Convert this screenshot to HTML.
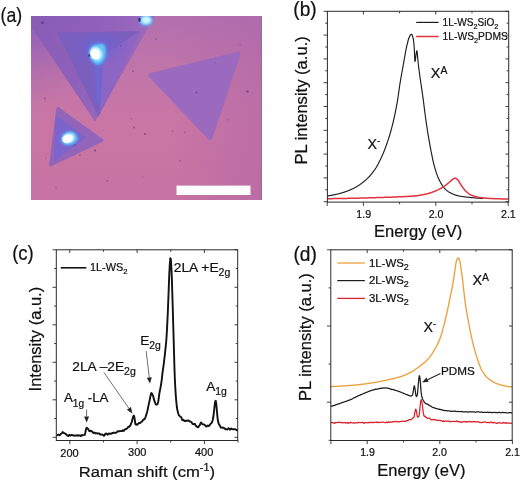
<!DOCTYPE html>
<html lang="en"><head><meta charset="utf-8"><title>WS2 figure</title>
<style>html,body{margin:0;padding:0;background:#fff}body{width:520px;height:482px;overflow:hidden}svg{display:block;filter:blur(.35px)}text{font-family:'Liberation Sans', Arial, Helvetica, sans-serif;fill:#111;stroke:#111;stroke-width:.22px}</style>
</head><body>
<svg width="520" height="482" viewBox="0 0 520 482">
<rect width="520" height="482" fill="#fff"/>
<defs>
<linearGradient id="bgA" x1="0" y1="0" x2="0" y2="1">
 <stop offset="0" stop-color="#b270af"/><stop offset="0.3" stop-color="#c175a8"/><stop offset="0.6" stop-color="#c976a4"/><stop offset="1" stop-color="#c773a3"/>
</linearGradient>
<radialGradient id="vig" gradientUnits="userSpaceOnUse" cx="31" cy="10" r="95">
 <stop offset="0" stop-color="#8456c4" stop-opacity="0.95"/><stop offset="0.45" stop-color="#9560b8" stop-opacity="0.6"/><stop offset="1" stop-color="#a868a8" stop-opacity="0"/>
</radialGradient>
<linearGradient id="outerG" gradientUnits="userSpaceOnUse" x1="30" y1="20" x2="150" y2="60">
 <stop offset="0" stop-color="#885bb5"/><stop offset="0.5" stop-color="#8f61ba"/><stop offset="1" stop-color="#9d6abe"/>
</linearGradient>
<radialGradient id="glow" cx="0.5" cy="0.5" r="0.5">
 <stop offset="0" stop-color="#6468dc" stop-opacity="0.85"/><stop offset="0.5" stop-color="#6a66d4" stop-opacity="0.45"/><stop offset="1" stop-color="#7060c8" stop-opacity="0"/>
</radialGradient>
<linearGradient id="rightshade" x1="0" y1="0" x2="1" y2="0">
 <stop offset="0.6" stop-color="#a860a8" stop-opacity="0"/><stop offset="1" stop-color="#a860a8" stop-opacity="0.35"/>
</linearGradient>
<radialGradient id="spot" cx="0.5" cy="0.5" r="0.5">
 <stop offset="0" stop-color="#ffffff"/><stop offset="0.38" stop-color="#e8fbff"/><stop offset="0.62" stop-color="#62c8f2"/><stop offset="0.85" stop-color="#4f86e0" stop-opacity="0.7"/><stop offset="1" stop-color="#6a70d0" stop-opacity="0"/>
</radialGradient>
<filter id="b1" x="-10%" y="-10%" width="120%" height="120%"><feGaussianBlur stdDeviation="0.7"/></filter><filter id="b0" x="-10%" y="-10%" width="120%" height="120%"><feGaussianBlur stdDeviation="0.6"/></filter>
<filter id="b15" x="-20%" y="-20%" width="140%" height="140%"><feGaussianBlur stdDeviation="1.05"/></filter><filter id="b2" x="-20%" y="-20%" width="140%" height="140%"><feGaussianBlur stdDeviation="1.4"/></filter>
<filter id="b05" x="-50%" y="-50%" width="200%" height="200%"><feGaussianBlur stdDeviation="0.55"/></filter>
<clipPath id="clipA"><rect x="31" y="16" width="231" height="184"/></clipPath>
<clipPath id="clipMid"><polygon points="57,32.6 139.6,31.3 98.6,116.6"/></clipPath>
<clipPath id="clipB"><rect x="327.5" y="11.3" width="181.2" height="190.8"/></clipPath>
<clipPath id="clipC"><rect x="56.3" y="249.8" width="181.9" height="190.5"/></clipPath>
<clipPath id="clipD"><rect x="330.8" y="249.8" width="181.5" height="190.5"/></clipPath>
</defs>
<g clip-path="url(#clipA)">
<rect x="31" y="16" width="231" height="184" fill="url(#bgA)"/>
<rect x="31" y="16" width="231" height="184" fill="url(#rightshade)"/>
<rect x="31" y="16" width="231" height="184" fill="url(#vig)"/>
<g filter="url(#b0)">
<polygon points="18.8,8 159.3,8 95,121.6" fill="url(#outerG)"/>
<polygon points="57,32.6 139.6,31.3 98.6,116.6" fill="#7a5ebf"/>
<g clip-path="url(#clipMid)">
<polygon points="103,56 141,30 99.5,114" fill="#9066c4" opacity="0.85"/>
<g filter="url(#b2)"><polygon points="93,58 102,58 100.5,104 97,104" fill="#6a6cdc" opacity="0.7"/></g>
<ellipse cx="99" cy="47" rx="30" ry="17" fill="url(#glow)"/>
</g>
<polygon points="151,75.4 238,54.2 210,137.6" fill="#9b6abe" stroke="#9b6abe" stroke-width="5" stroke-linejoin="round"/>
<polygon points="57.8,108.4 102,140.4 50.6,165" fill="#9265ba" stroke="#9265ba" stroke-width="3" stroke-linejoin="round"/>
<polygon points="56.2,116.4 85,137.4 54.6,160" fill="#7d64cc" stroke="#7d64cc" stroke-width="1.2" stroke-linejoin="round"/>
</g>
<g filter="url(#b2)" opacity="0.9"><ellipse cx="97.5" cy="54" rx="8.5" ry="11" fill="#5090f0" transform="rotate(-28 97.5 54)"/><ellipse cx="146" cy="20.4" rx="7" ry="5.6" fill="#5a9cf0"/><ellipse cx="69.2" cy="138.4" rx="8.6" ry="7" fill="#5090f0" transform="rotate(-15 69.2 138.4)"/></g>
<g filter="url(#b15)">
<path d="M89.6,53 C90.2,47 97,43 103.4,43.8 C106.8,46.2 106,54 103.8,58.8 C101.4,63.2 98.4,65.8 95.8,64 C92.4,60.8 89.2,58 89.6,53Z" fill="#62c4f8"/>
<ellipse cx="145.9" cy="20.3" rx="6" ry="4.6" fill="#84d4fa"/>
<path d="M61.8,139.5 C62,134.2 67,131 72.4,131.9 C75.8,133.2 78,136.6 77.2,139.4 C75.8,142.4 72,144.6 67.6,144.6 C64.2,145 61.7,142.8 61.8,139.5Z" fill="#62c0f8"/>
</g>
<g filter="url(#b15)">
<ellipse cx="96.2" cy="53.6" rx="5.6" ry="7" fill="#d8f8ff" transform="rotate(-25 96.2 53.6)"/>
<ellipse cx="146.3" cy="20" rx="4.2" ry="3.2" fill="#d4f6ff"/>
<ellipse cx="68.6" cy="138.2" rx="6" ry="4.6" fill="#d8f8ff" transform="rotate(-18 68.6 138.2)"/>
</g>
<g filter="url(#b1)">
<ellipse cx="94.9" cy="54" rx="4.4" ry="5.4" fill="#ffffff" transform="rotate(-20 94.9 54)"/>
<ellipse cx="67.5" cy="138.8" rx="5.2" ry="4.1" fill="#ffffff" transform="rotate(-12 67.5 138.8)"/>
<ellipse cx="139.5" cy="19.8" rx="1.2" ry="2.2" fill="#1c1a50" opacity="0.8"/>
<ellipse cx="89.2" cy="55.6" rx="0.9" ry="1.3" fill="#1c1a50" opacity="0.7"/>
</g>
<g filter="url(#b05)" fill="#3a1f5a">
<circle cx="42.5" cy="22.7" r="1.3" opacity="0.51"/>
<circle cx="156" cy="39" r="0.9" opacity="0.255"/>
<circle cx="247.5" cy="91.5" r="1.2" opacity="0.4675"/>
<circle cx="45" cy="98.5" r="1" opacity="0.34"/>
<circle cx="134" cy="127.5" r="1" opacity="0.34"/>
<circle cx="145" cy="134" r="1.1" opacity="0.425"/>
<circle cx="172.5" cy="131" r="0.9" opacity="0.255"/>
<circle cx="185" cy="132.5" r="0.9" opacity="0.255"/>
<circle cx="56" cy="187.5" r="0.9" opacity="0.2125"/>
<circle cx="107.5" cy="181" r="1" opacity="0.2975"/>
<circle cx="180" cy="161" r="0.9" opacity="0.255"/>
<circle cx="75" cy="145" r="1" opacity="0.2975"/>
<circle cx="215" cy="62.5" r="0.9" opacity="0.2125"/>
<circle cx="196.5" cy="92.5" r="1" opacity="0.2975"/>
<circle cx="131.5" cy="118.5" r="0.8" opacity="0.255"/>
<circle cx="95" cy="150.5" r="1.1" opacity="0.425"/>
<circle cx="80" cy="155" r="0.9" opacity="0.2975"/>
<circle cx="240" cy="45" r="0.8" opacity="0.2125"/>
<circle cx="121" cy="46" r="0.9" opacity="0.255"/>
<circle cx="133" cy="71" r="1" opacity="0.34"/>
<circle cx="46" cy="158" r="0.8" opacity="0.2125"/>
<circle cx="143" cy="177" r="0.8" opacity="0.2125"/>
<circle cx="228" cy="120" r="0.8" opacity="0.2125"/>
</g>
<rect x="176.5" y="185.6" width="74" height="9.4" fill="#fff"/>
<path d="M261.3,16V200" stroke="#9a6a9c" stroke-width="1.4" opacity="0.7"/>
</g>
<g clip-path="url(#clipB)" fill="none" stroke-linejoin="round">
<path d="M327.40,196.00 L327.65,195.96 L327.90,195.92 L328.15,195.89 L328.40,195.85 L328.65,195.81 L328.90,195.77 L329.15,195.72 L329.40,195.68 L329.65,195.64 L329.90,195.60 L330.15,195.55 L330.40,195.51 L330.65,195.46 L330.90,195.42 L331.15,195.37 L331.40,195.33 L331.65,195.28 L331.90,195.23 L332.15,195.18 L332.40,195.13 L332.65,195.08 L332.90,195.03 L333.15,194.98 L333.40,194.93 L333.65,194.88 L333.90,194.83 L334.15,194.78 L334.40,194.73 L334.65,194.67 L334.90,194.62 L335.15,194.57 L335.40,194.51 L335.65,194.46 L335.90,194.40 L336.15,194.35 L336.40,194.29 L336.65,194.23 L336.90,194.18 L337.15,194.12 L337.40,194.06 L337.65,194.00 L337.90,193.94 L338.15,193.88 L338.40,193.82 L338.65,193.76 L338.90,193.69 L339.15,193.63 L339.40,193.56 L339.65,193.50 L339.90,193.43 L340.15,193.37 L340.40,193.30 L340.65,193.23 L340.90,193.16 L341.15,193.09 L341.40,193.02 L341.65,192.95 L341.90,192.87 L342.15,192.80 L342.40,192.72 L342.65,192.65 L342.90,192.57 L343.15,192.49 L343.40,192.41 L343.65,192.33 L343.90,192.25 L344.15,192.17 L344.40,192.09 L344.65,192.00 L344.90,191.92 L345.15,191.83 L345.40,191.75 L345.65,191.66 L345.90,191.57 L346.15,191.48 L346.40,191.39 L346.65,191.30 L346.90,191.21 L347.15,191.11 L347.40,191.02 L347.65,190.92 L347.90,190.82 L348.15,190.73 L348.40,190.63 L348.65,190.53 L348.90,190.43 L349.15,190.32 L349.40,190.22 L349.65,190.11 L349.90,190.01 L350.15,189.90 L350.40,189.79 L350.65,189.68 L350.90,189.57 L351.15,189.46 L351.40,189.35 L351.65,189.24 L351.90,189.12 L352.15,189.00 L352.40,188.89 L352.65,188.77 L352.90,188.65 L353.15,188.52 L353.40,188.40 L353.65,188.28 L353.90,188.15 L354.15,188.03 L354.40,187.90 L354.65,187.77 L354.90,187.63 L355.15,187.50 L355.40,187.36 L355.65,187.22 L355.90,187.08 L356.15,186.94 L356.40,186.80 L356.65,186.65 L356.90,186.50 L357.15,186.35 L357.40,186.20 L357.65,186.04 L357.90,185.88 L358.15,185.73 L358.40,185.56 L358.65,185.40 L358.90,185.24 L359.15,185.07 L359.40,184.90 L359.65,184.73 L359.90,184.56 L360.15,184.38 L360.40,184.20 L360.65,184.03 L360.90,183.84 L361.15,183.66 L361.40,183.48 L361.65,183.29 L361.90,183.10 L362.15,182.91 L362.40,182.72 L362.65,182.52 L362.90,182.33 L363.15,182.13 L363.40,181.93 L363.65,181.73 L363.90,181.52 L364.15,181.32 L364.40,181.11 L364.65,180.90 L364.90,180.69 L365.15,180.48 L365.40,180.26 L365.65,180.04 L365.90,179.82 L366.15,179.60 L366.40,179.38 L366.65,179.15 L366.90,178.91 L367.15,178.68 L367.40,178.43 L367.65,178.19 L367.90,177.94 L368.15,177.69 L368.40,177.44 L368.65,177.18 L368.90,176.92 L369.15,176.65 L369.40,176.38 L369.65,176.11 L369.90,175.83 L370.15,175.55 L370.40,175.26 L370.65,174.97 L370.90,174.68 L371.15,174.38 L371.40,174.08 L371.65,173.78 L371.90,173.47 L372.15,173.16 L372.40,172.84 L372.65,172.52 L372.90,172.20 L373.15,171.87 L373.40,171.54 L373.65,171.20 L373.90,170.86 L374.15,170.52 L374.40,170.17 L374.65,169.81 L374.90,169.46 L375.15,169.09 L375.40,168.71 L375.65,168.33 L375.90,167.94 L376.15,167.53 L376.40,167.12 L376.65,166.70 L376.90,166.28 L377.15,165.84 L377.40,165.40 L377.65,164.95 L377.90,164.49 L378.15,164.03 L378.40,163.56 L378.65,163.08 L378.90,162.59 L379.15,162.10 L379.40,161.61 L379.65,161.10 L379.90,160.59 L380.15,160.08 L380.40,159.56 L380.65,159.04 L380.90,158.51 L381.15,157.97 L381.40,157.43 L381.65,156.89 L381.90,156.34 L382.15,155.78 L382.40,155.21 L382.65,154.64 L382.90,154.05 L383.15,153.46 L383.40,152.85 L383.65,152.24 L383.90,151.62 L384.15,150.99 L384.40,150.36 L384.65,149.71 L384.90,149.06 L385.15,148.40 L385.40,147.73 L385.65,147.05 L385.90,146.37 L386.15,145.67 L386.40,144.97 L386.65,144.27 L386.90,143.55 L387.15,142.83 L387.40,142.10 L387.65,141.36 L387.90,140.62 L388.15,139.86 L388.40,139.11 L388.65,138.34 L388.90,137.56 L389.15,136.77 L389.40,135.97 L389.65,135.15 L389.90,134.33 L390.15,133.48 L390.40,132.63 L390.65,131.76 L390.90,130.87 L391.15,129.97 L391.40,129.06 L391.65,128.13 L391.90,127.18 L392.15,126.21 L392.40,125.23 L392.65,124.23 L392.90,123.21 L393.15,122.18 L393.40,121.12 L393.65,120.04 L393.90,118.94 L394.15,117.82 L394.40,116.68 L394.65,115.52 L394.90,114.33 L395.15,113.13 L395.40,111.89 L395.65,110.64 L395.90,109.36 L396.15,108.06 L396.40,106.73 L396.65,105.38 L396.90,104.00 L397.15,102.59 L397.40,101.16 L397.65,99.70 L397.90,98.15 L398.15,96.49 L398.40,94.75 L398.65,92.96 L398.90,91.14 L399.15,89.32 L399.40,87.53 L399.65,85.79 L399.90,84.13 L400.15,82.57 L400.40,81.05 L400.65,79.56 L400.90,78.11 L401.15,76.67 L401.40,75.26 L401.65,73.87 L401.90,72.49 L402.15,71.11 L402.40,69.75 L402.65,68.38 L402.90,67.01 L403.15,65.63 L403.40,64.24 L403.65,62.83 L403.90,61.39 L404.15,59.94 L404.40,58.48 L404.65,57.03 L404.90,55.59 L405.15,54.17 L405.40,52.78 L405.65,51.43 L405.90,50.13 L406.15,48.88 L406.40,47.70 L406.65,46.58 L406.90,45.49 L407.15,44.41 L407.40,43.34 L407.65,42.31 L407.90,41.32 L408.15,40.39 L408.40,39.53 L408.65,38.75 L408.90,38.07 L409.15,37.49 L409.40,36.94 L409.65,36.40 L409.90,35.88 L410.15,35.40 L410.40,34.97 L410.65,34.62 L410.90,34.37 L411.15,34.22 L411.40,34.22 L411.65,34.38 L411.90,34.71 L412.15,35.20 L412.40,35.82 L412.65,36.55 L412.90,37.39 L413.15,38.31 L413.40,39.53 L413.65,41.46 L413.90,44.00 L414.15,47.02 L414.40,50.87 L414.65,57.62 L414.90,61.50 L415.15,61.02 L415.40,60.00 L415.65,58.13 L415.90,55.59 L416.15,53.72 L416.40,52.30 L416.65,51.16 L416.90,50.70 L417.15,51.94 L417.40,54.50 L417.65,57.03 L417.90,59.93 L418.15,62.72 L418.40,65.01 L418.65,67.12 L418.90,69.10 L419.15,70.98 L419.40,72.80 L419.65,74.60 L419.90,76.40 L420.15,78.18 L420.40,79.91 L420.65,81.60 L420.90,83.27 L421.15,84.94 L421.40,86.63 L421.65,88.35 L421.90,90.07 L422.15,91.80 L422.40,93.53 L422.65,95.28 L422.90,97.06 L423.15,98.88 L423.40,100.76 L423.65,102.73 L423.90,104.76 L424.15,106.82 L424.40,108.86 L424.65,110.85 L424.90,112.75 L425.15,114.62 L425.40,116.46 L425.65,118.28 L425.90,120.07 L426.15,121.84 L426.40,123.57 L426.65,125.27 L426.90,126.94 L427.15,128.58 L427.40,130.18 L427.65,131.76 L427.90,133.31 L428.15,134.83 L428.40,136.34 L428.65,137.82 L428.90,139.27 L429.15,140.71 L429.40,142.14 L429.65,143.54 L429.90,144.92 L430.15,146.28 L430.40,147.62 L430.65,148.95 L430.90,150.25 L431.15,151.54 L431.40,152.81 L431.65,154.08 L431.90,155.34 L432.15,156.60 L432.40,157.83 L432.65,159.04 L432.90,160.21 L433.15,161.33 L433.40,162.39 L433.65,163.40 L433.90,164.39 L434.15,165.35 L434.40,166.29 L434.65,167.21 L434.90,168.11 L435.15,168.98 L435.40,169.82 L435.65,170.65 L435.90,171.45 L436.15,172.22 L436.40,172.96 L436.65,173.68 L436.90,174.37 L437.15,175.05 L437.40,175.70 L437.65,176.34 L437.90,176.97 L438.15,177.57 L438.40,178.16 L438.65,178.73 L438.90,179.29 L439.15,179.82 L439.40,180.34 L439.65,180.84 L439.90,181.33 L440.15,181.79 L440.40,182.25 L440.65,182.70 L440.90,183.14 L441.15,183.57 L441.40,184.00 L441.65,184.41 L441.90,184.82 L442.15,185.22 L442.40,185.60 L442.65,185.97 L442.90,186.33 L443.15,186.68 L443.40,187.01 L443.65,187.33 L443.90,187.64 L444.15,187.93 L444.40,188.20 L444.65,188.46 L444.90,188.72 L445.15,188.97 L445.40,189.21 L445.65,189.45 L445.90,189.69 L446.15,189.91 L446.40,190.14 L446.65,190.35 L446.90,190.56 L447.15,190.76 L447.40,190.96 L447.65,191.15 L447.90,191.34 L448.15,191.52 L448.40,191.69 L448.65,191.86 L448.90,192.02 L449.15,192.17 L449.40,192.32 L449.65,192.46 L449.90,192.60 L450.15,192.73 L450.40,192.86 L450.65,192.99 L450.90,193.11 L451.15,193.24 L451.40,193.36 L451.65,193.48 L451.90,193.60 L452.15,193.71 L452.40,193.83 L452.65,193.94 L452.90,194.05 L453.15,194.16 L453.40,194.26 L453.65,194.36 L453.90,194.46 L454.15,194.56 L454.40,194.66 L454.65,194.75 L454.90,194.84 L455.15,194.93 L455.40,195.02 L455.65,195.10 L455.90,195.19 L456.15,195.26 L456.40,195.34 L456.65,195.41 L456.90,195.49 L457.15,195.56 L457.40,195.62 L457.65,195.68 L457.90,195.75 L458.15,195.80 L458.40,195.86 L458.65,195.91 L458.90,195.96 L459.15,196.01 L459.40,196.06 L459.65,196.11 L459.90,196.15 L460.15,196.20 L460.40,196.24 L460.65,196.29 L460.90,196.33 L461.15,196.37 L461.40,196.41 L461.65,196.45 L461.90,196.49 L462.15,196.53 L462.40,196.56 L462.65,196.60 L462.90,196.64 L463.15,196.67 L463.40,196.71 L463.65,196.74 L463.90,196.77 L464.15,196.81 L464.40,196.84 L464.65,196.87 L464.90,196.90 L465.15,196.93 L465.40,196.96 L465.65,196.99 L465.90,197.02 L466.15,197.05 L466.40,197.07 L466.65,197.10 L466.90,197.13 L467.15,197.16 L467.40,197.18 L467.65,197.21 L467.90,197.24 L468.15,197.26 L468.40,197.29 L468.65,197.31 L468.90,197.34 L469.15,197.36 L469.40,197.39 L469.65,197.42 L469.90,197.44 L470.15,197.47 L470.40,197.49 L470.65,197.51 L470.90,197.54 L471.15,197.56 L471.40,197.59 L471.65,197.61 L471.90,197.64 L472.15,197.66 L472.40,197.68 L472.65,197.71 L472.90,197.73 L473.15,197.75 L473.40,197.78 L473.65,197.80 L473.90,197.82 L474.15,197.84 L474.40,197.87 L474.65,197.89 L474.90,197.91 L475.15,197.93 L475.40,197.95 L475.65,197.98 L475.90,198.00 L476.15,198.02 L476.40,198.04 L476.65,198.06 L476.90,198.08 L477.15,198.10 L477.40,198.12 L477.65,198.14 L477.90,198.15 L478.15,198.17 L478.40,198.19 L478.65,198.21 L478.90,198.23 L479.15,198.24 L479.40,198.26 L479.65,198.28 L479.90,198.30 L480.15,198.31 L480.40,198.33 L480.65,198.34 L480.90,198.36 L481.15,198.37 L481.40,198.39 L481.65,198.40 L481.90,198.42 L482.15,198.43 L482.40,198.44 L482.65,198.46 L482.90,198.47 L483.15,198.48 L483.40,198.49" stroke="#1c1c1c" stroke-width="1.15"/>
<path d="M327.40,198.70 L327.90,198.69 L328.40,198.69 L328.90,198.68 L329.40,198.68 L329.90,198.67 L330.40,198.66 L330.90,198.66 L331.40,198.65 L331.90,198.64 L332.40,198.64 L332.90,198.63 L333.40,198.62 L333.90,198.62 L334.40,198.61 L334.90,198.60 L335.40,198.59 L335.90,198.58 L336.40,198.58 L336.90,198.57 L337.40,198.56 L337.90,198.55 L338.40,198.54 L338.90,198.54 L339.40,198.53 L339.90,198.52 L340.40,198.51 L340.90,198.50 L341.40,198.49 L341.90,198.48 L342.40,198.47 L342.90,198.46 L343.40,198.45 L343.90,198.45 L344.40,198.44 L344.90,198.43 L345.40,198.42 L345.90,198.41 L346.40,198.40 L346.90,198.39 L347.40,198.38 L347.90,198.37 L348.40,198.36 L348.90,198.35 L349.40,198.34 L349.90,198.32 L350.40,198.31 L350.90,198.30 L351.40,198.29 L351.90,198.28 L352.40,198.27 L352.90,198.26 L353.40,198.25 L353.90,198.24 L354.40,198.23 L354.90,198.22 L355.40,198.21 L355.90,198.19 L356.40,198.18 L356.90,198.17 L357.40,198.16 L357.90,198.15 L358.40,198.14 L358.90,198.13 L359.40,198.11 L359.90,198.10 L360.40,198.09 L360.90,198.08 L361.40,198.07 L361.90,198.05 L362.40,198.04 L362.90,198.03 L363.40,198.01 L363.90,198.00 L364.40,197.99 L364.90,197.97 L365.40,197.96 L365.90,197.95 L366.40,197.93 L366.90,197.92 L367.40,197.90 L367.90,197.89 L368.40,197.87 L368.90,197.86 L369.40,197.84 L369.90,197.83 L370.40,197.81 L370.90,197.79 L371.40,197.78 L371.90,197.76 L372.40,197.75 L372.90,197.73 L373.40,197.71 L373.90,197.70 L374.40,197.68 L374.90,197.67 L375.40,197.65 L375.90,197.63 L376.40,197.62 L376.90,197.60 L377.40,197.58 L377.90,197.57 L378.40,197.55 L378.90,197.54 L379.40,197.52 L379.90,197.50 L380.40,197.49 L380.90,197.47 L381.40,197.46 L381.90,197.44 L382.40,197.42 L382.90,197.41 L383.40,197.39 L383.90,197.38 L384.40,197.36 L384.90,197.34 L385.40,197.33 L385.90,197.31 L386.40,197.30 L386.90,197.28 L387.40,197.27 L387.90,197.25 L388.40,197.23 L388.90,197.22 L389.40,197.20 L389.90,197.18 L390.40,197.17 L390.90,197.15 L391.40,197.13 L391.90,197.12 L392.40,197.10 L392.90,197.08 L393.40,197.06 L393.90,197.05 L394.40,197.03 L394.90,197.01 L395.40,196.99 L395.90,196.97 L396.40,196.95 L396.90,196.93 L397.40,196.91 L397.90,196.89 L398.40,196.87 L398.90,196.85 L399.40,196.83 L399.90,196.80 L400.40,196.78 L400.90,196.76 L401.40,196.74 L401.90,196.71 L402.40,196.69 L402.90,196.67 L403.40,196.64 L403.90,196.62 L404.40,196.60 L404.90,196.57 L405.40,196.55 L405.90,196.52 L406.40,196.50 L406.90,196.47 L407.40,196.44 L407.90,196.41 L408.40,196.38 L408.90,196.35 L409.40,196.32 L409.90,196.29 L410.40,196.26 L410.90,196.22 L411.40,196.19 L411.90,196.15 L412.40,196.12 L412.90,196.08 L413.40,196.04 L413.90,196.00 L414.40,195.95 L414.90,195.91 L415.40,195.86 L415.90,195.81 L416.40,195.76 L416.90,195.70 L417.40,195.64 L417.90,195.57 L418.40,195.50 L418.90,195.43 L419.40,195.35 L419.90,195.27 L420.40,195.19 L420.90,195.10 L421.40,195.01 L421.90,194.92 L422.40,194.83 L422.90,194.73 L423.40,194.63 L423.90,194.53 L424.40,194.42 L424.90,194.32 L425.40,194.21 L425.90,194.10 L426.40,193.99 L426.90,193.86 L427.40,193.74 L427.90,193.60 L428.40,193.47 L428.90,193.32 L429.40,193.17 L429.90,193.01 L430.40,192.85 L430.90,192.69 L431.40,192.52 L431.90,192.34 L432.40,192.16 L432.90,191.98 L433.40,191.79 L433.90,191.59 L434.40,191.40 L434.90,191.20 L435.40,190.99 L435.90,190.78 L436.40,190.57 L436.90,190.36 L437.40,190.13 L437.90,189.90 L438.40,189.66 L438.90,189.40 L439.40,189.14 L439.90,188.87 L440.40,188.59 L440.90,188.30 L441.40,188.01 L441.90,187.71 L442.40,187.40 L442.90,187.08 L443.40,186.76 L443.90,186.43 L444.40,186.10 L444.90,185.76 L445.40,185.39 L445.90,185.01 L446.40,184.62 L446.90,184.21 L447.40,183.80 L447.90,183.38 L448.40,182.96 L448.90,182.54 L449.40,182.12 L449.90,181.70 L450.40,181.27 L450.90,180.81 L451.40,180.34 L451.90,179.89 L452.40,179.47 L452.90,179.12 L453.40,178.82 L453.90,178.53 L454.40,178.29 L454.90,178.20 L455.40,178.27 L455.90,178.43 L456.40,178.65 L456.90,179.01 L457.40,179.50 L457.90,180.05 L458.40,180.71 L458.90,181.45 L459.40,182.25 L459.90,183.09 L460.40,183.93 L460.90,184.75 L461.40,185.53 L461.90,186.24 L462.40,186.92 L462.90,187.60 L463.40,188.27 L463.90,188.92 L464.40,189.55 L464.90,190.15 L465.40,190.71 L465.90,191.22 L466.40,191.68 L466.90,192.12 L467.40,192.55 L467.90,192.97 L468.40,193.37 L468.90,193.74 L469.40,194.10 L469.90,194.42 L470.40,194.72 L470.90,194.99 L471.40,195.22 L471.90,195.42 L472.40,195.61 L472.90,195.79 L473.40,195.96 L473.90,196.13 L474.40,196.29 L474.90,196.44 L475.40,196.59 L475.90,196.72 L476.40,196.85 L476.90,196.97 L477.40,197.09 L477.90,197.19 L478.40,197.29 L478.90,197.38 L479.40,197.46 L479.90,197.53 L480.40,197.60 L480.90,197.66 L481.40,197.72 L481.90,197.78 L482.40,197.83 L482.90,197.88 L483.40,197.94 L483.90,197.99 L484.40,198.03 L484.90,198.08 L485.40,198.13 L485.90,198.17 L486.40,198.21 L486.90,198.25 L487.40,198.29 L487.90,198.33 L488.40,198.36 L488.90,198.40 L489.40,198.43 L489.90,198.46 L490.40,198.49 L490.90,198.52 L491.40,198.54 L491.90,198.57 L492.40,198.59 L492.90,198.62 L493.40,198.64 L493.90,198.66 L494.40,198.68 L494.90,198.70 L495.40,198.71 L495.90,198.73 L496.40,198.75 L496.90,198.76 L497.40,198.78 L497.90,198.80 L498.40,198.81 L498.90,198.83 L499.40,198.84 L499.90,198.86 L500.40,198.87 L500.90,198.89 L501.40,198.90 L501.90,198.91 L502.40,198.92 L502.90,198.93 L503.40,198.94 L503.90,198.95 L504.40,198.96 L504.90,198.97 L505.40,198.98 L505.90,198.98 L506.40,198.99 L506.90,198.99 L507.40,199.00 L507.90,199.00 L508.40,199.00" stroke="#e0323c" stroke-width="1.5"/>
</g>
<rect x="327.4" y="11.3" width="181.3" height="190.8" fill="none" stroke="#2a2a2a" stroke-width="1"/>
<path d="M327.4,11.3h-3.8M327.4,23.2h-2.2M327.4,35.1h-3.8M327.4,47h-2.2M327.4,58.9h-3.8M327.4,70.8h-2.2M327.4,82.7h-3.8M327.4,94.6h-2.2M327.4,106.5h-3.8M327.4,118.4h-2.2M327.4,130.3h-3.8M327.4,142.2h-2.2M327.4,154.1h-3.8M327.4,166h-2.2M327.4,177.9h-3.8M327.4,189.8h-2.2M327.4,201.7h-3.8M508.7,11.3h-3.2M508.7,23.2h-2M508.7,35.1h-3.2M508.7,47h-2M508.7,58.9h-3.2M508.7,70.8h-2M508.7,82.7h-3.2M508.7,94.6h-2M508.7,106.5h-3.2M508.7,118.4h-2M508.7,130.3h-3.2M508.7,142.2h-2M508.7,154.1h-3.2M508.7,166h-2M508.7,177.9h-3.2M508.7,189.8h-2M508.7,201.7h-3.2M363.4,202.1v3.8M435.8,202.1v3.8M399.6,202.1v2.2M472,202.1v2.2M508.2,202.1v3.8M327.2,202.1v3.8M363.4,11.3v3.2M435.8,11.3v3.2M399.6,11.3v2M472,11.3v2" stroke="#2a2a2a" stroke-width="0.9" fill="none"/>
<path d="M416.2,22.4H438.6" stroke="#1c1c1c" stroke-width="1.2"/><path d="M416.2,36.5H438.6" stroke="#e0323c" stroke-width="1.5"/>
<text x="442.6" y="25.7" font-size="10.8" textLength="55.8" lengthAdjust="spacingAndGlyphs">1L-WS<tspan font-size="7.8" dy="2.8">2</tspan><tspan dy="-2.8">SiO</tspan><tspan font-size="7.8" dy="2.8">2</tspan></text>
<text x="442.6" y="39.8" font-size="10.8" textLength="65.2" lengthAdjust="spacingAndGlyphs">1L-WS<tspan font-size="7.8" dy="2.8">2</tspan><tspan dy="-2.8">PDMS</tspan></text>
<text x="430.8" y="78.2" font-size="14.4">X<tspan font-size="10.4" dy="-4.2">A</tspan></text>
<text x="367.6" y="148.5" font-size="14.2">X<tspan font-size="9.5" dy="-4.6">-</tspan></text>
<text x="293.3" y="16.2" font-size="20" textLength="23.4" lengthAdjust="spacingAndGlyphs">(b)</text>
<text font-size="10.6" text-anchor="middle"><tspan x="363.7" y="217.6">1.9</tspan><tspan x="436.1" y="217.6">2.0</tspan><tspan x="508.4" y="217.6">2.1</tspan></text>
<text x="374.1" y="236.5" font-size="15.7" textLength="88.2" lengthAdjust="spacingAndGlyphs">Energy (eV)</text>
<text transform="translate(307.3,164.6) rotate(-90)" font-size="16.4" textLength="128.4" lengthAdjust="spacingAndGlyphs">PL intensity (a.u.)</text>
<g clip-path="url(#clipC)" fill="none" stroke-linejoin="round">
<path d="M56.30,435.35 L56.80,435.35 L57.30,435.06 L57.80,434.78 L58.30,434.68 L58.80,434.69 L59.30,435.12 L59.80,435.30 L60.30,434.49 L60.80,433.84 L61.30,433.70 L61.80,433.34 L62.30,432.52 L62.80,432.09 L63.30,432.62 L63.80,433.13 L64.30,433.13 L64.80,433.38 L65.30,433.70 L65.80,434.03 L66.30,434.53 L66.80,435.08 L67.30,435.47 L67.80,435.90 L68.30,436.06 L68.80,435.46 L69.30,434.86 L69.80,435.17 L70.30,435.67 L70.80,435.45 L71.30,435.03 L71.80,434.98 L72.30,435.01 L72.80,435.30 L73.30,435.66 L73.80,435.46 L74.30,435.56 L74.80,435.76 L75.30,435.48 L75.80,435.42 L76.30,435.57 L76.80,435.35 L77.30,435.10 L77.80,435.56 L78.30,435.71 L78.80,435.31 L79.30,435.49 L79.80,435.49 L80.30,435.52 L80.80,436.07 L81.30,435.70 L81.80,434.94 L82.30,435.08 L82.80,435.29 L83.30,435.18 L83.80,435.11 L84.30,434.95 L84.80,434.76 L85.30,432.76 L85.80,430.29 L86.30,428.15 L86.80,427.77 L87.30,428.26 L87.80,428.69 L88.30,429.22 L88.80,430.11 L89.30,431.03 L89.80,431.24 L90.30,430.79 L90.80,431.04 L91.30,431.40 L91.80,431.19 L92.30,431.52 L92.80,432.34 L93.30,432.95 L93.80,432.96 L94.30,432.63 L94.80,432.59 L95.30,433.08 L95.80,433.51 L96.30,433.28 L96.80,433.21 L97.30,433.49 L97.80,433.54 L98.30,433.37 L98.80,433.33 L99.30,433.59 L99.80,434.02 L100.30,434.54 L100.80,434.61 L101.30,434.47 L101.80,434.49 L102.30,434.59 L102.80,434.85 L103.30,435.21 L103.80,435.74 L104.30,435.64 L104.80,434.96 L105.30,433.83 L105.80,433.39 L106.30,433.69 L106.80,433.85 L107.30,434.39 L107.80,434.69 L108.30,433.91 L108.80,433.50 L109.30,433.80 L109.80,433.85 L110.30,433.58 L110.80,433.55 L111.30,433.77 L111.80,433.52 L112.30,433.02 L112.80,433.03 L113.30,432.95 L113.80,432.72 L114.30,432.70 L114.80,432.76 L115.30,432.97 L115.80,432.89 L116.30,432.47 L116.80,432.17 L117.30,431.75 L117.80,431.19 L118.30,431.29 L118.80,431.40 L119.30,431.17 L119.80,431.18 L120.30,431.08 L120.80,431.07 L121.30,431.08 L121.80,431.09 L122.30,430.68 L122.80,430.28 L123.30,430.82 L123.80,430.92 L124.30,430.16 L124.80,429.60 L125.30,429.22 L125.80,429.06 L126.30,429.08 L126.80,428.63 L127.30,428.03 L127.80,427.49 L128.30,426.87 L128.80,426.65 L129.30,426.68 L129.80,426.25 L130.30,425.54 L130.80,424.47 L131.30,423.13 L131.80,421.73 L132.30,419.68 L132.80,417.83 L133.30,416.24 L133.80,415.44 L134.30,416.90 L134.80,419.90 L135.30,423.99 L135.80,424.46 L136.30,424.13 L136.80,424.69 L137.30,424.74 L137.80,424.02 L138.30,423.66 L138.80,423.24 L139.30,422.87 L139.80,423.08 L140.30,422.94 L140.80,422.34 L141.30,421.90 L141.80,421.61 L142.30,421.11 L142.80,420.44 L143.30,419.66 L143.80,419.40 L144.30,419.39 L144.80,418.63 L145.30,417.63 L145.80,416.35 L146.30,414.63 L146.80,413.06 L147.30,411.41 L147.80,409.01 L148.30,406.40 L148.80,404.16 L149.30,402.06 L149.80,399.43 L150.30,396.73 L150.80,394.50 L151.30,393.05 L151.80,393.29 L152.30,394.24 L152.80,395.21 L153.30,396.68 L153.80,398.73 L154.30,400.68 L154.80,401.96 L155.30,403.29 L155.80,404.44 L156.30,404.68 L156.80,404.62 L157.30,404.30 L157.80,403.40 L158.30,401.25 L158.80,397.79 L159.30,393.96 L159.80,391.06 L160.30,388.76 L160.80,385.79 L161.30,382.81 L161.80,379.32 L162.30,374.69 L162.80,370.57 L163.30,367.36 L163.80,363.66 L164.30,359.47 L164.80,355.08 L165.30,350.31 L165.80,345.70 L166.30,340.49 L166.80,332.83 L167.30,323.42 L167.80,312.93 L168.30,299.94 L168.80,286.78 L169.30,273.45 L169.80,264.32 L170.30,258.10 L170.80,259.08 L171.30,266.18 L171.80,276.99 L172.30,292.91 L172.80,309.71 L173.30,327.47 L173.80,344.52 L174.30,362.97 L174.80,378.13 L175.30,387.88 L175.80,395.58 L176.30,401.71 L176.80,406.49 L177.30,409.62 L177.80,411.68 L178.30,413.56 L178.80,415.16 L179.30,415.76 L179.80,416.02 L180.30,416.74 L180.80,416.94 L181.30,417.26 L181.80,418.79 L182.30,420.07 L182.80,420.02 L183.30,419.67 L183.80,420.15 L184.30,420.95 L184.80,421.06 L185.30,420.82 L185.80,420.70 L186.30,420.74 L186.80,420.87 L187.30,420.79 L187.80,420.42 L188.30,420.35 L188.80,420.73 L189.30,421.21 L189.80,421.53 L190.30,421.49 L190.80,421.80 L191.30,422.14 L191.80,422.57 L192.30,423.72 L192.80,424.14 L193.30,423.92 L193.80,424.25 L194.30,424.11 L194.80,423.82 L195.30,424.69 L195.80,425.73 L196.30,426.18 L196.80,426.51 L197.30,426.94 L197.80,427.30 L198.30,427.16 L198.80,426.32 L199.30,425.58 L199.80,425.07 L200.30,423.89 L200.80,422.70 L201.30,422.56 L201.80,423.49 L202.30,424.09 L202.80,424.21 L203.30,424.31 L203.80,424.39 L204.30,424.67 L204.80,425.01 L205.30,425.43 L205.80,426.13 L206.30,426.65 L206.80,426.44 L207.30,425.87 L207.80,425.45 L208.30,425.60 L208.80,426.03 L209.30,425.75 L209.80,425.02 L210.30,424.22 L210.80,423.50 L211.30,423.21 L211.80,422.67 L212.30,421.42 L212.80,419.78 L213.30,417.01 L213.80,413.19 L214.30,408.75 L214.80,403.90 L215.30,401.08 L215.80,400.86 L216.30,403.99 L216.80,409.68 L217.30,415.57 L217.80,419.84 L218.30,422.40 L218.80,423.99 L219.30,424.88 L219.80,425.48 L220.30,426.69 L220.80,427.63 L221.30,427.56 L221.80,427.38 L222.30,427.58 L222.80,427.78 L223.30,427.60 L223.80,427.90 L224.30,428.48 L224.80,428.55 L225.30,429.02 L225.80,429.37 L226.30,429.10 L226.80,429.28 L227.30,429.50 L227.80,428.95 L228.30,428.34 L228.80,428.30 L229.30,428.97 L229.80,429.69 L230.30,429.47 L230.80,428.75 L231.30,428.54 L231.80,428.86 L232.30,429.15 L232.80,429.21 L233.30,429.30 L233.80,429.32 L234.30,429.18 L234.80,429.22 L235.30,429.32 L235.80,429.37 L236.30,429.79 L236.80,430.16 L237.30,429.86 L237.80,429.43" stroke="#111" stroke-width="1.9"/>
</g>
<rect x="56.3" y="249.8" width="181.4" height="190.7" fill="none" stroke="#2a2a2a" stroke-width="1"/>
<path d="M56.3,249.8h-3.8M56.3,268.55h-2.2M56.3,287.3h-3.8M56.3,306.05h-2.2M56.3,324.8h-3.8M56.3,343.55h-2.2M56.3,362.3h-3.8M56.3,381.05h-2.2M56.3,399.8h-3.8M56.3,418.55h-2.2M56.3,437.3h-3.8M237.7,249.8h-3.2M237.7,268.55h-2M237.7,287.3h-3.2M237.7,306.05h-2M237.7,324.8h-3.2M237.7,343.55h-2M237.7,362.3h-3.2M237.7,381.05h-2M237.7,399.8h-3.2M237.7,418.55h-2M237.7,437.3h-3.2M69.8,440.5v3.6M137.1,440.5v3.6M204.4,440.5v3.6M103.45,440.5v2M170.75,440.5v2M238.05,440.5v2M69.8,249.8v3.2M137.1,249.8v3.2M204.4,249.8v3.2M103.45,249.8v2M170.75,249.8v2" stroke="#2a2a2a" stroke-width="0.9" fill="none"/>
<path d="M60.8,267.8H86.3" stroke="#111" stroke-width="1.6"/>
<text x="90" y="271" font-size="11" textLength="37.6" lengthAdjust="spacingAndGlyphs">1L-WS<tspan font-size="7.8" dy="2.8">2</tspan></text>
<text x="12.2" y="259.8" font-size="20.5" stroke-width="0.4" textLength="21.6" lengthAdjust="spacingAndGlyphs">(c)</text>
<text x="0.6" y="22.3" font-size="20.5" stroke-width="0.4" textLength="21.6" lengthAdjust="spacingAndGlyphs">(a)</text>
<text font-size="11" text-anchor="middle"><tspan x="69.5" y="456.5">200</tspan><tspan x="137.3" y="456.4">300</tspan><tspan x="204.1" y="456.4">400</tspan></text>
<text x="78.8" y="476.8" font-size="15.4" textLength="136.2" lengthAdjust="spacingAndGlyphs">Raman shift (cm<tspan font-size="10" dy="-5.6">-1</tspan><tspan dy="5.6">)</tspan></text>
<text transform="translate(41.3,391.4) rotate(-90)" font-size="16.4" textLength="104.6" lengthAdjust="spacingAndGlyphs">Intensity (a.u.)</text>
<text x="173.8" y="271.5" font-size="13.6" stroke-width="0.4" textLength="56.5" lengthAdjust="spacingAndGlyphs">2LA +E<tspan font-size="10.4" dy="4.1">2g</tspan></text>
<text x="140.2" y="344.7" font-size="13.6" stroke-width="0.4">E<tspan font-size="10.4" dy="4.1">2g</tspan></text>
<text x="206.2" y="390.5" font-size="13.6" stroke-width="0.4">A<tspan font-size="10.4" dy="4.1">1g</tspan></text>
<text x="72.3" y="371" font-size="13.6" stroke-width="0.4" textLength="63.5" lengthAdjust="spacingAndGlyphs">2LA –2E<tspan font-size="10.4" dy="4.1">2g</tspan></text>
<text x="64" y="402.4" font-size="13.6" stroke-width="0.4" textLength="44.4" lengthAdjust="spacingAndGlyphs">A<tspan font-size="10.4" dy="4.1">1g</tspan><tspan dy="-4.1"> -LA</tspan></text>
<path d="M86.60,409.50L86.60,416.40" stroke="#222" stroke-width="0.65" fill="none"/><polygon points="86.60,422.60 84.10,416.40 89.10,416.40" fill="#222"/>
<path d="M104.00,372.50L128.86,408.31" stroke="#222" stroke-width="0.65" fill="none"/><polygon points="132.40,413.40 126.81,409.73 130.92,406.88" fill="#222"/>
<path d="M146.20,351.00L149.28,377.44" stroke="#222" stroke-width="0.65" fill="none"/><polygon points="150.00,383.60 146.80,377.73 151.77,377.15" fill="#222"/>
<g clip-path="url(#clipD)" fill="none" stroke-linejoin="round">
<path d="M330.80,386.60 L331.20,386.58 L331.60,386.56 L332.00,386.55 L332.40,386.53 L332.80,386.51 L333.20,386.49 L333.60,386.47 L334.00,386.45 L334.40,386.43 L334.80,386.41 L335.20,386.39 L335.60,386.37 L336.00,386.35 L336.40,386.32 L336.80,386.30 L337.20,386.28 L337.60,386.26 L338.00,386.23 L338.40,386.21 L338.80,386.19 L339.20,386.16 L339.60,386.14 L340.00,386.12 L340.40,386.09 L340.80,386.07 L341.20,386.04 L341.60,386.02 L342.00,385.99 L342.40,385.97 L342.80,385.94 L343.20,385.92 L343.60,385.89 L344.00,385.87 L344.40,385.84 L344.80,385.81 L345.20,385.79 L345.60,385.76 L346.00,385.73 L346.40,385.71 L346.80,385.68 L347.20,385.65 L347.60,385.62 L348.00,385.59 L348.40,385.57 L348.80,385.54 L349.20,385.51 L349.60,385.48 L350.00,385.45 L350.40,385.42 L350.80,385.39 L351.20,385.35 L351.60,385.32 L352.00,385.29 L352.40,385.26 L352.80,385.22 L353.20,385.19 L353.60,385.16 L354.00,385.12 L354.40,385.09 L354.80,385.05 L355.20,385.02 L355.60,384.98 L356.00,384.94 L356.40,384.91 L356.80,384.87 L357.20,384.83 L357.60,384.79 L358.00,384.75 L358.40,384.71 L358.80,384.67 L359.20,384.62 L359.60,384.58 L360.00,384.54 L360.40,384.49 L360.80,384.44 L361.20,384.40 L361.60,384.35 L362.00,384.30 L362.40,384.25 L362.80,384.20 L363.20,384.15 L363.60,384.10 L364.00,384.05 L364.40,383.99 L364.80,383.94 L365.20,383.88 L365.60,383.83 L366.00,383.78 L366.40,383.72 L366.80,383.66 L367.20,383.61 L367.60,383.55 L368.00,383.49 L368.40,383.43 L368.80,383.38 L369.20,383.32 L369.60,383.26 L370.00,383.20 L370.40,383.14 L370.80,383.08 L371.20,383.02 L371.60,382.96 L372.00,382.89 L372.40,382.83 L372.80,382.77 L373.20,382.70 L373.60,382.63 L374.00,382.57 L374.40,382.50 L374.80,382.43 L375.20,382.36 L375.60,382.29 L376.00,382.22 L376.40,382.15 L376.80,382.08 L377.20,382.01 L377.60,381.94 L378.00,381.86 L378.40,381.79 L378.80,381.72 L379.20,381.64 L379.60,381.57 L380.00,381.49 L380.40,381.41 L380.80,381.33 L381.20,381.26 L381.60,381.18 L382.00,381.10 L382.40,381.02 L382.80,380.94 L383.20,380.86 L383.60,380.78 L384.00,380.69 L384.40,380.61 L384.80,380.52 L385.20,380.44 L385.60,380.35 L386.00,380.26 L386.40,380.17 L386.80,380.08 L387.20,379.99 L387.60,379.90 L388.00,379.81 L388.40,379.71 L388.80,379.62 L389.20,379.53 L389.60,379.43 L390.00,379.34 L390.40,379.24 L390.80,379.14 L391.20,379.04 L391.60,378.95 L392.00,378.85 L392.40,378.75 L392.80,378.65 L393.20,378.55 L393.60,378.45 L394.00,378.35 L394.40,378.25 L394.80,378.16 L395.20,378.06 L395.60,377.96 L396.00,377.86 L396.40,377.76 L396.80,377.66 L397.20,377.56 L397.60,377.45 L398.00,377.35 L398.40,377.24 L398.80,377.13 L399.20,377.02 L399.60,376.91 L400.00,376.79 L400.40,376.67 L400.80,376.55 L401.20,376.43 L401.60,376.30 L402.00,376.17 L402.40,376.03 L402.80,375.90 L403.20,375.75 L403.60,375.60 L404.00,375.45 L404.40,375.29 L404.80,375.13 L405.20,374.97 L405.60,374.80 L406.00,374.62 L406.40,374.45 L406.80,374.27 L407.20,374.08 L407.60,373.89 L408.00,373.70 L408.40,373.50 L408.80,373.30 L409.20,373.10 L409.60,372.90 L410.00,372.69 L410.40,372.48 L410.80,372.26 L411.20,372.04 L411.60,371.82 L412.00,371.60 L412.40,371.37 L412.80,371.14 L413.20,370.89 L413.60,370.64 L414.00,370.38 L414.40,370.12 L414.80,369.85 L415.20,369.57 L415.60,369.29 L416.00,369.01 L416.40,368.72 L416.80,368.43 L417.20,368.13 L417.60,367.83 L418.00,367.53 L418.40,367.23 L418.80,366.92 L419.20,366.62 L419.60,366.31 L420.00,366.00 L420.40,365.69 L420.80,365.39 L421.20,365.08 L421.60,364.77 L422.00,364.46 L422.40,364.15 L422.80,363.84 L423.20,363.52 L423.60,363.19 L424.00,362.86 L424.40,362.53 L424.80,362.18 L425.20,361.83 L425.60,361.47 L426.00,361.10 L426.40,360.71 L426.80,360.32 L427.20,359.91 L427.60,359.49 L428.00,359.06 L428.40,358.60 L428.80,358.13 L429.20,357.65 L429.60,357.14 L430.00,356.63 L430.40,356.09 L430.80,355.54 L431.20,354.98 L431.60,354.40 L432.00,353.81 L432.40,353.21 L432.80,352.59 L433.20,351.96 L433.60,351.32 L434.00,350.67 L434.40,350.01 L434.80,349.33 L435.20,348.64 L435.60,347.94 L436.00,347.21 L436.40,346.46 L436.80,345.69 L437.20,344.90 L437.60,344.08 L438.00,343.23 L438.40,342.35 L438.80,341.44 L439.20,340.50 L439.60,339.52 L440.00,338.50 L440.40,337.42 L440.80,336.27 L441.20,335.05 L441.60,333.77 L442.00,332.42 L442.40,331.02 L442.80,329.58 L443.20,328.08 L443.60,326.55 L444.00,324.99 L444.40,323.39 L444.80,321.77 L445.20,320.14 L445.60,318.49 L446.00,316.83 L446.40,315.16 L446.80,313.41 L447.20,311.59 L447.60,309.71 L448.00,307.78 L448.40,305.82 L448.80,303.85 L449.20,301.88 L449.60,299.93 L450.00,298.00 L450.40,296.12 L450.80,294.29 L451.20,292.45 L451.60,290.57 L452.00,288.61 L452.40,286.54 L452.80,284.31 L453.20,281.92 L453.60,279.41 L454.00,276.81 L454.40,274.16 L454.80,271.50 L455.20,268.62 L455.60,265.66 L456.00,263.20 L456.40,261.25 L456.80,259.69 L457.20,258.84 L457.60,258.25 L458.00,258.00 L458.40,258.16 L458.80,258.55 L459.20,259.18 L459.60,260.49 L460.00,262.20 L460.40,264.41 L460.80,267.18 L461.20,270.00 L461.60,272.66 L462.00,275.37 L462.40,278.24 L462.80,281.43 L463.20,284.97 L463.60,288.72 L464.00,292.51 L464.40,296.16 L464.80,299.50 L465.20,302.42 L465.60,305.13 L466.00,307.72 L466.40,310.18 L466.80,312.55 L467.20,314.83 L467.60,317.05 L468.00,319.22 L468.40,321.37 L468.80,323.50 L469.20,325.62 L469.60,327.71 L470.00,329.77 L470.40,331.78 L470.80,333.74 L471.20,335.66 L471.60,337.51 L472.00,339.29 L472.40,341.00 L472.80,342.66 L473.20,344.28 L473.60,345.87 L474.00,347.43 L474.40,348.95 L474.80,350.43 L475.20,351.87 L475.60,353.27 L476.00,354.62 L476.40,355.93 L476.80,357.19 L477.20,358.40 L477.60,359.58 L478.00,360.75 L478.40,361.91 L478.80,363.04 L479.20,364.15 L479.60,365.22 L480.00,366.25 L480.40,367.23 L480.80,368.16 L481.20,369.03 L481.60,369.83 L482.00,370.56 L482.40,371.22 L482.80,371.86 L483.20,372.47 L483.60,373.07 L484.00,373.64 L484.40,374.20 L484.80,374.73 L485.20,375.25 L485.60,375.74 L486.00,376.22 L486.40,376.67 L486.80,377.11 L487.20,377.52 L487.60,377.92 L488.00,378.30 L488.40,378.65 L488.80,378.99 L489.20,379.30 L489.60,379.60 L490.00,379.88 L490.40,380.16 L490.80,380.43 L491.20,380.69 L491.60,380.95 L492.00,381.20 L492.40,381.44 L492.80,381.67 L493.20,381.90 L493.60,382.12 L494.00,382.34 L494.40,382.54 L494.80,382.75 L495.20,382.94 L495.60,383.13 L496.00,383.30 L496.40,383.48 L496.80,383.64 L497.20,383.80 L497.60,383.95 L498.00,384.10 L498.40,384.23 L498.80,384.36 L499.20,384.48 L499.60,384.60 L500.00,384.71 L500.40,384.82 L500.80,384.93 L501.20,385.04 L501.60,385.15 L502.00,385.26 L502.40,385.37 L502.80,385.47 L503.20,385.57 L503.60,385.68 L504.00,385.77 L504.40,385.87 L504.80,385.97 L505.20,386.06 L505.60,386.14 L506.00,386.23 L506.40,386.31 L506.80,386.39 L507.20,386.46 L507.60,386.54 L508.00,386.60 L508.40,386.66 L508.80,386.72 L509.20,386.77 L509.60,386.82 L510.00,386.86 L510.40,386.90 L510.80,386.93 L511.20,386.96 L511.60,386.98 L512.00,386.99" stroke="#eca03c" stroke-width="1.35"/>
<path d="M330.80,406.46 L331.20,406.33 L331.60,406.09 L332.00,406.00 L332.40,406.10 L332.80,406.02 L333.20,405.71 L333.60,405.45 L334.00,405.35 L334.40,405.31 L334.80,405.36 L335.20,405.34 L335.60,405.04 L336.00,404.68 L336.40,404.51 L336.80,404.46 L337.20,404.31 L337.60,404.13 L338.00,404.01 L338.40,403.91 L338.80,403.93 L339.20,403.89 L339.60,403.67 L340.00,403.43 L340.40,403.28 L340.80,403.11 L341.20,402.92 L341.60,402.73 L342.00,402.49 L342.40,402.40 L342.80,402.43 L343.20,402.32 L343.60,402.22 L344.00,402.04 L344.40,401.72 L344.80,401.59 L345.20,401.60 L345.60,401.49 L346.00,401.35 L346.40,401.27 L346.80,401.04 L347.20,400.74 L347.60,400.63 L348.00,400.64 L348.40,400.43 L348.80,400.19 L349.20,400.19 L349.60,400.15 L350.00,399.94 L350.40,399.65 L350.80,399.36 L351.20,399.28 L351.60,399.28 L352.00,399.09 L352.40,398.83 L352.80,398.55 L353.20,398.24 L353.60,397.97 L354.00,397.87 L354.40,397.76 L354.80,397.52 L355.20,397.40 L355.60,397.18 L356.00,396.84 L356.40,396.63 L356.80,396.49 L357.20,396.32 L357.60,396.09 L358.00,395.88 L358.40,395.70 L358.80,395.47 L359.20,395.29 L359.60,395.26 L360.00,395.12 L360.40,394.83 L360.80,394.65 L361.20,394.47 L361.60,394.33 L362.00,394.25 L362.40,394.13 L362.80,393.98 L363.20,393.75 L363.60,393.56 L364.00,393.36 L364.40,393.19 L364.80,393.09 L365.20,392.96 L365.60,392.81 L366.00,392.57 L366.40,392.33 L366.80,392.22 L367.20,392.17 L367.60,392.01 L368.00,391.76 L368.40,391.52 L368.80,391.36 L369.20,391.28 L369.60,391.04 L370.00,390.83 L370.40,390.88 L370.80,390.81 L371.20,390.50 L371.60,390.31 L372.00,390.22 L372.40,390.15 L372.80,390.11 L373.20,389.95 L373.60,389.85 L374.00,389.80 L374.40,389.68 L374.80,389.56 L375.20,389.36 L375.60,389.15 L376.00,389.16 L376.40,389.29 L376.80,389.20 L377.20,389.06 L377.60,389.00 L378.00,388.93 L378.40,388.95 L378.80,388.91 L379.20,388.62 L379.60,388.39 L380.00,388.33 L380.40,388.36 L380.80,388.48 L381.20,388.44 L381.60,388.19 L382.00,388.06 L382.40,388.17 L382.80,388.14 L383.20,387.94 L383.60,387.95 L384.00,388.03 L384.40,388.03 L384.80,387.94 L385.20,387.85 L385.60,387.80 L386.00,387.92 L386.40,388.17 L386.80,388.22 L387.20,388.11 L387.60,388.04 L388.00,388.07 L388.40,388.28 L388.80,388.49 L389.20,388.60 L389.60,388.66 L390.00,388.73 L390.40,388.90 L390.80,389.13 L391.20,389.40 L391.60,389.53 L392.00,389.44 L392.40,389.42 L392.80,389.53 L393.20,389.61 L393.60,389.71 L394.00,389.83 L394.40,389.96 L394.80,390.16 L395.20,390.30 L395.60,390.40 L396.00,390.47 L396.40,390.52 L396.80,390.63 L397.20,390.81 L397.60,390.98 L398.00,391.17 L398.40,391.27 L398.80,391.35 L399.20,391.51 L399.60,391.64 L400.00,391.82 L400.40,391.97 L400.80,392.09 L401.20,392.38 L401.60,392.64 L402.00,392.77 L402.40,392.90 L402.80,393.02 L403.20,393.15 L403.60,393.33 L404.00,393.53 L404.40,393.67 L404.80,393.80 L405.20,394.03 L405.60,394.23 L406.00,394.33 L406.40,394.49 L406.80,394.61 L407.20,394.69 L407.60,394.91 L408.00,395.15 L408.40,395.31 L408.80,395.44 L409.20,395.52 L409.60,395.70 L410.00,395.92 L410.40,396.03 L410.80,395.96 L411.20,395.86 L411.60,395.80 L412.00,395.56 L412.40,394.99 L412.80,393.86 L413.20,391.37 L413.60,389.01 L414.00,386.74 L414.40,385.87 L414.80,387.70 L415.20,390.23 L415.60,393.65 L416.00,395.61 L416.40,396.63 L416.80,396.27 L417.20,394.97 L417.60,392.82 L418.00,387.94 L418.40,383.05 L418.80,379.03 L419.20,375.92 L419.60,375.89 L420.00,378.46 L420.40,382.34 L420.80,388.67 L421.20,392.73 L421.60,395.41 L422.00,397.29 L422.40,398.55 L422.80,399.46 L423.20,400.20 L423.60,400.87 L424.00,401.62 L424.40,402.37 L424.80,402.84 L425.20,403.17 L425.60,403.57 L426.00,403.82 L426.40,403.89 L426.80,403.93 L427.20,404.11 L427.60,404.34 L428.00,404.45 L428.40,404.63 L428.80,405.05 L429.20,405.48 L429.60,405.68 L430.00,405.83 L430.40,406.10 L430.80,406.24 L431.20,406.26 L431.60,406.56 L432.00,406.93 L432.40,407.20 L432.80,407.44 L433.20,407.56 L433.60,407.60 L434.00,407.73 L434.40,407.86 L434.80,407.92 L435.20,408.08 L435.60,408.37 L436.00,408.54 L436.40,408.52 L436.80,408.55 L437.20,408.75 L437.60,408.92 L438.00,409.02 L438.40,409.09 L438.80,409.07 L439.20,409.13 L439.60,409.31 L440.00,409.52 L440.40,409.57 L440.80,409.46 L441.20,409.56 L441.60,409.76 L442.00,409.78 L442.40,409.87 L442.80,410.14 L443.20,410.30 L443.60,410.31 L444.00,410.36 L444.40,410.47 L444.80,410.55 L445.20,410.58 L445.60,410.50 L446.00,410.51 L446.40,410.62 L446.80,410.69 L447.20,410.80 L447.60,410.81 L448.00,410.76 L448.40,410.82 L448.80,410.92 L449.20,410.98 L449.60,410.93 L450.00,410.99 L450.40,411.23 L450.80,411.43 L451.20,411.39 L451.60,411.23 L452.00,411.25 L452.40,411.33 L452.80,411.22 L453.20,411.14 L453.60,411.25 L454.00,411.30 L454.40,411.17 L454.80,411.07 L455.20,411.18 L455.60,411.34 L456.00,411.36 L456.40,411.39 L456.80,411.50 L457.20,411.53 L457.60,411.52 L458.00,411.50 L458.40,411.45 L458.80,411.42 L459.20,411.51 L459.60,411.64 L460.00,411.62 L460.40,411.53 L460.80,411.55 L461.20,411.64 L461.60,411.64 L462.00,411.50 L462.40,411.49 L462.80,411.73 L463.20,411.98 L463.60,411.93 L464.00,411.80 L464.40,411.90 L464.80,411.97 L465.20,411.82 L465.60,411.79 L466.00,411.91 L466.40,411.93 L466.80,411.87 L467.20,411.89 L467.60,412.07 L468.00,412.12 L468.40,412.01 L468.80,411.85 L469.20,411.73 L469.60,411.83 L470.00,411.91 L470.40,411.96 L470.80,411.97 L471.20,411.83 L471.60,411.76 L472.00,411.85 L472.40,411.87 L472.80,411.85 L473.20,411.87 L473.60,411.79 L474.00,411.80 L474.40,412.00 L474.80,412.13 L475.20,412.22 L475.60,412.26 L476.00,412.04 L476.40,411.82 L476.80,411.82 L477.20,411.87 L477.60,411.97 L478.00,411.97 L478.40,411.92 L478.80,411.96 L479.20,412.00 L479.60,412.07 L480.00,412.12 L480.40,412.10 L480.80,412.11 L481.20,412.08 L481.60,412.01 L482.00,411.99 L482.40,412.20 L482.80,412.48 L483.20,412.56 L483.60,412.48 L484.00,412.34 L484.40,412.29 L484.80,412.36 L485.20,412.33 L485.60,412.26 L486.00,412.26 L486.40,412.27 L486.80,412.27 L487.20,412.24 L487.60,412.20 L488.00,412.36 L488.40,412.55 L488.80,412.45 L489.20,412.37 L489.60,412.45 L490.00,412.43 L490.40,412.32 L490.80,412.38 L491.20,412.51 L491.60,412.50 L492.00,412.53 L492.40,412.57 L492.80,412.47 L493.20,412.41 L493.60,412.50 L494.00,412.50 L494.40,412.34 L494.80,412.31 L495.20,412.45 L495.60,412.58 L496.00,412.68 L496.40,412.62 L496.80,412.49 L497.20,412.53 L497.60,412.53 L498.00,412.51 L498.40,412.54 L498.80,412.41 L499.20,412.32 L499.60,412.38 L500.00,412.41 L500.40,412.49 L500.80,412.63 L501.20,412.74 L501.60,412.79 L502.00,412.62 L502.40,412.45 L502.80,412.46 L503.20,412.47 L503.60,412.52 L504.00,412.62 L504.40,412.54 L504.80,412.50 L505.20,412.66 L505.60,412.74 L506.00,412.74 L506.40,412.77 L506.80,412.78 L507.20,412.82 L507.60,412.87 L508.00,412.86 L508.40,412.82 L508.80,412.74 L509.20,412.63 L509.60,412.66 L510.00,412.74 L510.40,412.72 L510.80,412.74 L511.20,412.88 L511.60,412.82 L512.00,412.68" stroke="#1c1c1c" stroke-width="1.25"/>
<path d="M330.80,422.40 L331.20,422.54 L331.60,422.67 L332.00,422.64 L332.40,422.67 L332.80,422.73 L333.20,422.77 L333.60,422.69 L334.00,422.81 L334.40,423.28 L334.80,423.34 L335.20,422.80 L335.60,422.49 L336.00,422.64 L336.40,422.74 L336.80,422.56 L337.20,422.55 L337.60,422.61 L338.00,422.46 L338.40,422.41 L338.80,422.34 L339.20,422.11 L339.60,422.18 L340.00,422.53 L340.40,422.73 L340.80,422.54 L341.20,422.30 L341.60,422.55 L342.00,422.93 L342.40,422.95 L342.80,422.69 L343.20,422.61 L343.60,422.72 L344.00,422.56 L344.40,422.33 L344.80,422.59 L345.20,422.98 L345.60,423.06 L346.00,422.95 L346.40,422.84 L346.80,422.80 L347.20,422.67 L347.60,422.88 L348.00,423.31 L348.40,423.09 L348.80,422.67 L349.20,422.66 L349.60,422.89 L350.00,422.94 L350.40,422.53 L350.80,422.23 L351.20,422.43 L351.60,422.66 L352.00,422.84 L352.40,423.00 L352.80,422.97 L353.20,422.75 L353.60,422.60 L354.00,422.95 L354.40,423.28 L354.80,423.07 L355.20,422.80 L355.60,422.90 L356.00,422.94 L356.40,422.62 L356.80,422.56 L357.20,422.79 L357.60,422.79 L358.00,422.64 L358.40,422.60 L358.80,422.60 L359.20,422.59 L359.60,422.47 L360.00,422.34 L360.40,422.56 L360.80,422.67 L361.20,422.45 L361.60,422.50 L362.00,422.58 L362.40,422.44 L362.80,422.38 L363.20,422.48 L363.60,422.94 L364.00,423.40 L364.40,423.22 L364.80,422.80 L365.20,422.69 L365.60,422.66 L366.00,422.74 L366.40,422.73 L366.80,422.52 L367.20,422.60 L367.60,422.77 L368.00,422.83 L368.40,422.63 L368.80,422.41 L369.20,422.56 L369.60,422.68 L370.00,422.62 L370.40,422.53 L370.80,422.18 L371.20,422.05 L371.60,422.50 L372.00,422.72 L372.40,422.56 L372.80,422.59 L373.20,422.62 L373.60,422.37 L374.00,422.20 L374.40,422.43 L374.80,422.50 L375.20,422.36 L375.60,422.44 L376.00,422.26 L376.40,422.21 L376.80,422.52 L377.20,422.34 L377.60,422.03 L378.00,422.24 L378.40,422.64 L378.80,422.65 L379.20,422.41 L379.60,422.44 L380.00,422.44 L380.40,422.28 L380.80,422.30 L381.20,422.26 L381.60,422.11 L382.00,422.11 L382.40,422.23 L382.80,422.21 L383.20,422.08 L383.60,422.20 L384.00,422.44 L384.40,422.48 L384.80,422.55 L385.20,422.61 L385.60,422.69 L386.00,422.64 L386.40,422.32 L386.80,422.20 L387.20,422.36 L387.60,422.68 L388.00,422.47 L388.40,421.76 L388.80,421.74 L389.20,422.19 L389.60,422.38 L390.00,422.28 L390.40,422.14 L390.80,422.17 L391.20,422.17 L391.60,422.14 L392.00,421.92 L392.40,421.63 L392.80,421.70 L393.20,421.85 L393.60,421.95 L394.00,421.82 L394.40,421.66 L394.80,421.70 L395.20,421.54 L395.60,421.31 L396.00,421.31 L396.40,421.60 L396.80,421.92 L397.20,421.94 L397.60,421.85 L398.00,421.84 L398.40,421.71 L398.80,421.62 L399.20,421.78 L399.60,421.78 L400.00,421.51 L400.40,421.37 L400.80,421.39 L401.20,421.31 L401.60,421.30 L402.00,421.42 L402.40,421.38 L402.80,421.23 L403.20,421.13 L403.60,421.20 L404.00,421.20 L404.40,421.25 L404.80,421.46 L405.20,421.46 L405.60,421.44 L406.00,421.18 L406.40,420.71 L406.80,420.61 L407.20,420.71 L407.60,420.64 L408.00,420.47 L408.40,420.15 L408.80,419.86 L409.20,419.73 L409.60,419.64 L410.00,419.76 L410.40,419.69 L410.80,419.51 L411.20,419.54 L411.60,419.36 L412.00,418.82 L412.40,418.42 L412.80,418.13 L413.20,417.69 L413.60,417.51 L414.00,417.13 L414.40,415.35 L414.80,412.87 L415.20,410.86 L415.60,409.19 L416.00,409.26 L416.40,411.04 L416.80,413.45 L417.20,416.24 L417.60,417.06 L418.00,417.18 L418.40,417.05 L418.80,416.34 L419.20,415.10 L419.60,411.75 L420.00,407.06 L420.40,403.74 L420.80,400.70 L421.20,399.62 L421.60,400.85 L422.00,402.76 L422.40,405.27 L422.80,409.14 L423.20,411.89 L423.60,414.33 L424.00,415.87 L424.40,416.26 L424.80,416.15 L425.20,416.40 L425.60,417.01 L426.00,417.46 L426.40,417.49 L426.80,417.71 L427.20,418.27 L427.60,418.48 L428.00,418.29 L428.40,418.10 L428.80,418.14 L429.20,418.23 L429.60,418.42 L430.00,418.85 L430.40,419.09 L430.80,419.43 L431.20,419.87 L431.60,419.70 L432.00,419.43 L432.40,419.73 L432.80,419.88 L433.20,419.56 L433.60,419.47 L434.00,419.54 L434.40,419.71 L434.80,419.85 L435.20,419.55 L435.60,419.56 L436.00,419.94 L436.40,420.14 L436.80,420.29 L437.20,420.35 L437.60,420.45 L438.00,420.38 L438.40,420.10 L438.80,420.17 L439.20,420.38 L439.60,420.54 L440.00,420.56 L440.40,420.40 L440.80,420.53 L441.20,420.86 L441.60,420.84 L442.00,420.91 L442.40,421.45 L442.80,421.43 L443.20,420.88 L443.60,421.13 L444.00,421.64 L444.40,421.48 L444.80,421.17 L445.20,421.01 L445.60,420.96 L446.00,420.99 L446.40,421.12 L446.80,421.27 L447.20,421.19 L447.60,421.00 L448.00,420.98 L448.40,421.08 L448.80,421.13 L449.20,421.34 L449.60,421.63 L450.00,421.65 L450.40,421.60 L450.80,421.57 L451.20,421.48 L451.60,421.41 L452.00,421.48 L452.40,421.50 L452.80,421.49 L453.20,421.69 L453.60,421.60 L454.00,421.33 L454.40,421.29 L454.80,421.38 L455.20,421.46 L455.60,421.57 L456.00,421.68 L456.40,421.31 L456.80,420.96 L457.20,421.00 L457.60,421.12 L458.00,421.53 L458.40,421.95 L458.80,421.77 L459.20,421.37 L459.60,421.56 L460.00,422.02 L460.40,421.96 L460.80,421.85 L461.20,422.20 L461.60,422.50 L462.00,422.29 L462.40,421.94 L462.80,421.90 L463.20,421.85 L463.60,421.58 L464.00,421.47 L464.40,421.57 L464.80,421.57 L465.20,421.68 L465.60,422.06 L466.00,422.22 L466.40,421.86 L466.80,421.68 L467.20,421.82 L467.60,422.02 L468.00,422.06 L468.40,421.76 L468.80,421.45 L469.20,421.32 L469.60,421.55 L470.00,421.90 L470.40,421.84 L470.80,421.64 L471.20,421.72 L471.60,421.93 L472.00,421.97 L472.40,421.83 L472.80,421.63 L473.20,421.41 L473.60,421.69 L474.00,421.96 L474.40,421.65 L474.80,421.71 L475.20,421.98 L475.60,421.87 L476.00,421.81 L476.40,421.94 L476.80,422.04 L477.20,421.85 L477.60,421.65 L478.00,421.77 L478.40,421.85 L478.80,421.93 L479.20,422.19 L479.60,422.41 L480.00,422.37 L480.40,422.26 L480.80,422.46 L481.20,422.68 L481.60,422.74 L482.00,422.64 L482.40,422.35 L482.80,422.30 L483.20,422.29 L483.60,422.11 L484.00,422.15 L484.40,422.19 L484.80,422.01 L485.20,421.84 L485.60,421.98 L486.00,422.38 L486.40,422.69 L486.80,422.71 L487.20,422.49 L487.60,422.30 L488.00,422.30 L488.40,422.44 L488.80,422.54 L489.20,422.79 L489.60,422.95 L490.00,422.55 L490.40,422.12 L490.80,422.05 L491.20,422.03 L491.60,422.31 L492.00,422.78 L492.40,422.64 L492.80,422.39 L493.20,422.75 L493.60,422.96 L494.00,422.65 L494.40,422.46 L494.80,422.58 L495.20,422.80 L495.60,423.02 L496.00,423.19 L496.40,423.26 L496.80,423.29 L497.20,423.26 L497.60,422.91 L498.00,422.52 L498.40,422.65 L498.80,422.83 L499.20,422.88 L499.60,422.96 L500.00,422.77 L500.40,422.78 L500.80,423.16 L501.20,423.21 L501.60,423.12 L502.00,423.25 L502.40,423.29 L502.80,422.86 L503.20,422.38 L503.60,422.50 L504.00,422.69 L504.40,422.74 L504.80,423.06 L505.20,423.23 L505.60,422.92 L506.00,422.95 L506.40,423.31 L506.80,423.04 L507.20,422.77 L507.60,423.04 L508.00,423.13 L508.40,423.07 L508.80,423.15 L509.20,423.00 L509.60,422.90 L510.00,423.16 L510.40,423.27 L510.80,423.14 L511.20,423.16 L511.60,423.50 L512.00,423.79" stroke="#d8222c" stroke-width="1.25"/>
</g>
<rect x="330.8" y="249.8" width="181.4" height="190.7" fill="none" stroke="#2a2a2a" stroke-width="1"/>
<path d="M330.8,249.8h-3.8M330.8,287.9h-2.2M330.8,326h-3.8M330.8,364.1h-2.2M330.8,402.2h-3.8M330.8,440.3h-2.2M512.2,249.8h-3.2M512.2,287.9h-2M512.2,326h-3.2M512.2,364.1h-2M512.2,402.2h-3.2M512.2,440.3h-2M367.2,440.5v3.6M439.8,440.5v3.6M403.5,440.5v2M476.1,440.5v2M512.4,440.5v3.6M330.9,440.5v3.6M367.2,249.8v3.2M439.8,249.8v3.2M403.5,249.8v2M476.1,249.8v2" stroke="#2a2a2a" stroke-width="0.9" fill="none"/>
<path d="M337.3,263H364.9" stroke="#eca03c" stroke-width="1.3"/><path d="M337.3,280.6H364.9" stroke="#1c1c1c" stroke-width="1.2"/><path d="M337.3,298.4H364.9" stroke="#d8222c" stroke-width="1.3"/>
<text x="368.9" y="266.8" font-size="10.5" textLength="39.9" lengthAdjust="spacingAndGlyphs">1L-WS<tspan font-size="8.2" dy="3">2</tspan></text>
<text x="368.9" y="284.4" font-size="10.5" textLength="39.9" lengthAdjust="spacingAndGlyphs">2L-WS<tspan font-size="8.2" dy="3">2</tspan></text>
<text x="368.9" y="302.2" font-size="10.5" textLength="39.9" lengthAdjust="spacingAndGlyphs">3L-WS<tspan font-size="8.2" dy="3">2</tspan></text>
<text x="472.4" y="285" font-size="14.4">X<tspan font-size="10.4" dy="-4.2">A</tspan></text>
<text x="423.6" y="331.6" font-size="14.2">X<tspan font-size="9.5" dy="-4.6">-</tspan></text>
<text x="441" y="375.2" font-size="11.5" textLength="33.8" lengthAdjust="spacingAndGlyphs">PDMS</text>
<path d="M440.40,373.40L427.57,379.68" stroke="#222" stroke-width="1.1" fill="none"/><polygon points="422.00,382.40 426.51,377.52 428.62,381.83" fill="#222"/>
<text x="293.5" y="260.6" font-size="20" textLength="23.4" lengthAdjust="spacingAndGlyphs">(d)</text>
<text font-size="10.6" text-anchor="middle"><tspan x="367.5" y="455.8">1.9</tspan><tspan x="439.6" y="455.8">2.0</tspan><tspan x="512.6" y="455.8">2.1</tspan></text>
<text x="377.3" y="476.2" font-size="15.7" textLength="88.2" lengthAdjust="spacingAndGlyphs">Energy (eV)</text>
<text transform="translate(310.6,401) rotate(-90)" font-size="16.4" textLength="127.8" lengthAdjust="spacingAndGlyphs">PL intensity (a.u.)</text>
</svg>
</body></html>
